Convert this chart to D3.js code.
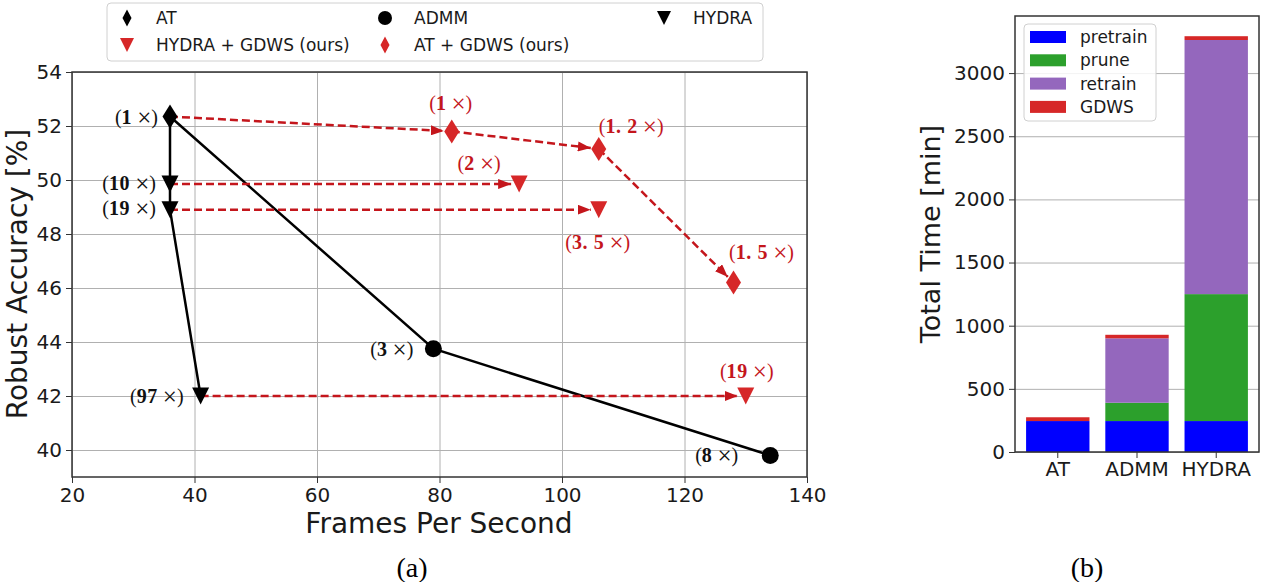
<!DOCTYPE html>
<html>
  <head>
    <style>
      body { margin: 0; background: #fff; }
      .tick text { font-family: "DejaVu Sans", sans-serif; font-size: 20px; fill: #1a1a1a; }
      .tick line { stroke: #333; }
      .domain { stroke: #333; }
      .grid line { stroke: #b0b0b0; stroke-width: 1; }
      .grid .domain { display: none; }
      .ann { font-family: "Liberation Serif", serif; font-size: 20px; }
      .leg { font-family: "DejaVu Sans", sans-serif; font-size: 17px; fill: #1a1a1a; }
    </style>
  </head>
  <body>
    <svg width="1262" height="582"></svg>
    <script src="https://cdn.jsdelivr.net/npm/d3@7"></script>
    <script>
      // (a) accuracy vs fps
      var atFps = [36], atAcc = [52.35], atLabels = ["1"];
      var hydraFps = [36, 36, 41], hydraAcc = [49.85, 48.9, 42.0], hydraLabels = ["10", "19", "97"];
      var admmFps = [79, 134], admmAcc = [43.75, 39.8], admmLabels = ["3", "8"];
      var atGdwsFps = [82, 106, 128], atGdwsAcc = [51.8, 51.15, 46.2], atGdwsLabels = ["1", "1.2", "1.5"];
      var hydraGdwsFps = [93, 106, 130], hydraGdwsAcc = [49.85, 48.9, 42.0], hydraGdwsLabels = ["2", "3.5", "19"];
      var fpsTicks = [20, 40, 60, 80, 100, 120, 140];
      var accTicks = [40, 42, 44, 46, 48, 50, 52, 54];

      // (b) total time
      var methods = ["AT", "ADMM", "HYDRA"];
      var phases = ["pretrain", "prune", "retrain", "GDWS"];
      var pretrainTime = [245, 245, 245];
      var pruneTime = [0, 145, 1005];
      var retrainTime = [0, 510, 2012];
      var gdwsTime = [30, 28, 30];
      var timeTicks = [0, 500, 1000, 1500, 2000, 2500, 3000];

      var svg = d3.select("svg");
      var RED = "#d62728", DRED = "#c4161c";

      function pts(xs, ys) { return xs.map(function(x, i) { return [x, ys[i]]; }); }
      var at = pts(atFps, atAcc), hydra = pts(hydraFps, hydraAcc), admm = pts(admmFps, admmAcc);
      var atG = pts(atGdwsFps, atGdwsAcc), hydraG = pts(hydraGdwsFps, hydraGdwsAcc);

      var x = d3.scaleLinear().domain([20, 140]).range([72, 807]);
      var y = d3.scaleLinear().domain([39, 54]).range([477, 72]);

      var a = svg.append("g");
      a.append("g").attr("class", "grid")
        .attr("transform", "translate(0,477)")
        .call(d3.axisBottom(x).tickValues(fpsTicks).tickSize(-405).tickFormat(""));
      a.append("g").attr("class", "grid")
        .attr("transform", "translate(72,0)")
        .call(d3.axisLeft(y).tickValues(accTicks).tickSize(-735).tickFormat(""));
      a.append("rect").attr("x", 72).attr("y", 72).attr("width", 735).attr("height", 405)
        .attr("fill", "none").attr("stroke", "#333").attr("stroke-width", 1.5);
      var xa = a.append("g").attr("transform", "translate(0,477)")
        .call(d3.axisBottom(x).tickValues(fpsTicks).tickSize(6).tickPadding(5));
      var ya = a.append("g").attr("transform", "translate(72,0)")
        .call(d3.axisLeft(y).tickValues(accTicks).tickSize(6).tickPadding(4));
      xa.select(".domain").remove();
      ya.select(".domain").remove();

      a.append("text").attr("x", 439).attr("y", 533)
        .attr("text-anchor", "middle")
        .style("font-family", "DejaVu Sans").style("font-size", "28px").style("fill", "#1a1a1a")
        .text("Frames Per Second");
      a.append("text").attr("transform", "translate(27,274) rotate(-90)")
        .attr("text-anchor", "middle")
        .style("font-family", "DejaVu Sans").style("font-size", "28px").style("fill", "#1a1a1a")
        .text("Robust Accuracy [%]");

      var line = d3.line().x(function(d) { return x(d[0]); }).y(function(d) { return y(d[1]); });
      a.append("path").attr("d", line(at.concat(hydra)))
        .attr("fill", "none").attr("stroke", "#000").attr("stroke-width", 2.5);
      a.append("path").attr("d", line(at.concat(admm)))
        .attr("fill", "none").attr("stroke", "#000").attr("stroke-width", 2.5);

      // arrow heads
      svg.append("defs").append("marker")
        .attr("id", "head").attr("markerUnits", "userSpaceOnUse")
        .attr("viewBox", "0 0 13 10").attr("refX", 13).attr("refY", 5)
        .attr("markerWidth", 13).attr("markerHeight", 10).attr("orient", "auto")
        .append("path").attr("d", "M0,0L13,5L0,10Z").attr("fill", DRED);

      var arrows = [[at[0], atG[0]], [atG[0], atG[1]], [atG[1], atG[2]]];
      hydra.forEach(function(p, i) { arrows.push([p, hydraG[i]]); });
      arrows.forEach(function(ar) {
        var x0 = x(ar[0][0]), y0 = y(ar[0][1]), x1 = x(ar[1][0]), y1 = y(ar[1][1]);
        var len = Math.hypot(x1 - x0, y1 - y0), s = (len - 8) / len;
        a.append("line")
          .attr("x1", x0).attr("y1", y0)
          .attr("x2", x0 + (x1 - x0) * s).attr("y2", y0 + (y1 - y0) * s)
          .attr("stroke", DRED).attr("stroke-width", 2.5)
          .attr("stroke-dasharray", "8,4")
          .attr("marker-end", "url(#head)");
      });

      function diamond(w, h) { return "M0," + (-h / 2) + "L" + (w / 2) + ",0L0," + (h / 2) + "L" + (-w / 2) + ",0Z"; }
      function triDown(s) { return "M" + (-s / 2) + "," + (-s / 2) + "L" + (s / 2) + "," + (-s / 2) + "L0," + (s / 2) + "Z"; }
      function circ(r) { return d3.symbol(d3.symbolCircle, Math.PI * r * r)(); }

      function drawMarkers(data, shape, color) {
        a.selectAll(null).data(data).enter().append("path")
          .attr("transform", function(d) { return "translate(" + x(d[0]) + "," + y(d[1]) + ")"; })
          .attr("d", shape).attr("fill", color);
      }
      drawMarkers(atG, diamond(15, 24), RED);
      drawMarkers(hydraG, triDown(17), RED);
      drawMarkers(at, diamond(15, 24), "#000");
      drawMarkers(hydra, triDown(17), "#000");
      drawMarkers(admm, circ(8.5), "#000");

      // label offsets: dx, dy, anchor
      var labelPlace = {
        at: [[-12, 0, "end"]],
        hydra: [[-14, -1, "end"], [-14, -2, "end"], [-17, 0, "end"]],
        admm: [[-20, 0, "end"], [-32, 0, "end"]],
        atG: [[-1, -28, "middle"], [0, -23, "start"], [28, -31, "middle"]],
        hydraG: [[-40, -21, "middle"], [-1, 32, "middle"], [1, -25, "middle"]]
      };
      function labels(data, texts, place, color) {
        data.forEach(function(d, i) {
          var p = place[i];
          var t = a.append("text").attr("class", "ann")
            .attr("x", x(d[0]) + p[0]).attr("y", y(d[1]) + p[1] + 7)
            .attr("text-anchor", p[2]).attr("fill", color);
          t.append("tspan").text("(");
          t.append("tspan").style("font-weight", "bold").style("letter-spacing", "0.6px")
            .text(texts[i].replace(".", ". "));
          t.append("tspan").text(" ");
          t.append("tspan").attr("dy", 2).style("font-size", "25px").text("\u00d7");
          t.append("tspan").attr("dy", -2).text(")");
        });
      }
      labels(at, atLabels, labelPlace.at, "#111");
      labels(hydra, hydraLabels, labelPlace.hydra, "#111");
      labels(admm, admmLabels, labelPlace.admm, "#111");
      labels(atG, atGdwsLabels, labelPlace.atG, DRED);
      labels(hydraG, hydraGdwsLabels, labelPlace.hydraG, DRED);

      // legend (a)
      var legendNames = ["AT", "ADMM", "HYDRA", "HYDRA + GDWS (ours)", "AT + GDWS (ours)"];
      var legendShapes = [diamond(9, 17), circ(7), triDown(14), triDown(14), diamond(9, 17)];
      var legendColors = ["#000", "#000", "#000", RED, RED];
      var leg = svg.append("g");
      leg.append("rect").attr("x", 107).attr("y", 3).attr("width", 656).attr("height", 58)
        .attr("rx", 4).attr("fill", "#fff").attr("fill-opacity", 0.85)
        .attr("stroke", "#d0d0d0").attr("stroke-width", 1);
      var colX = [127, 385, 664], rowY = [18, 45];
      legendNames.forEach(function(n, i) {
        var cx = colX[i % 3], cy = rowY[Math.floor(i / 3)];
        leg.append("path").attr("transform", "translate(" + cx + "," + cy + ")")
          .attr("d", legendShapes[i]).attr("fill", legendColors[i]);
        leg.append("text").attr("class", "leg").attr("x", cx + 29).attr("y", cy + 6).text(n);
      });

      svg.append("text").attr("x", 412).attr("y", 577).attr("text-anchor", "middle")
        .style("font-family", "Liberation Serif").style("font-size", "28px").text("(a)");

      // (b) stacked bars
      var rows = methods.map(function(m, i) {
        return { method: m, pretrain: pretrainTime[i], prune: pruneTime[i], retrain: retrainTime[i], GDWS: gdwsTime[i] };
      });
      var stack = d3.stack().keys(phases)(rows);
      var phaseColors = d3.scaleOrdinal().domain(phases).range(["#0000ff", "#2ca02c", "#9467bd", "#d62728"]);

      var bx = d3.scaleBand().domain(methods).range([1015, 1259]).paddingInner(0.2).paddingOuter(0.14);
      var by = d3.scaleLinear().domain([0, 3452]).range([452, 16]);

      var b = svg.append("g");
      b.append("g").attr("class", "grid").attr("transform", "translate(1015,0)")
        .call(d3.axisLeft(by).tickValues(timeTicks).tickSize(-244).tickFormat(""));
      b.selectAll("g.layer").data(stack).enter().append("g")
        .attr("fill", function(d) { return phaseColors(d.key); })
        .selectAll("rect").data(function(d) { return d; }).enter().append("rect")
          .attr("x", function(d) { return bx(d.data.method); })
          .attr("width", bx.bandwidth())
          .attr("y", function(d) { return by(d[1]); })
          .attr("height", function(d) { return by(d[0]) - by(d[1]); });
      b.append("rect").attr("x", 1015).attr("y", 16).attr("width", 244).attr("height", 436)
        .attr("fill", "none").attr("stroke", "#333").attr("stroke-width", 1.5);
      var bxa = b.append("g").attr("transform", "translate(0,452)")
        .call(d3.axisBottom(bx).tickSize(6).tickPadding(4));
      var bya = b.append("g").attr("transform", "translate(1015,0)")
        .call(d3.axisLeft(by).tickValues(timeTicks).tickFormat(d3.format("d")).tickSize(6).tickPadding(4));
      bxa.select(".domain").remove();
      bya.select(".domain").remove();
      b.append("text").attr("transform", "translate(940,234) rotate(-90)")
        .attr("text-anchor", "middle")
        .style("font-family", "DejaVu Sans").style("font-size", "27px").style("fill", "#1a1a1a")
        .text("Total Time [min]");

      var bleg = b.append("g");
      bleg.append("rect").attr("x", 1024).attr("y", 24).attr("width", 132).attr("height", 97)
        .attr("rx", 4).attr("fill", "#fff").attr("fill-opacity", 0.85)
        .attr("stroke", "#d0d0d0");
      phases.forEach(function(p, i) {
        var cy = 37 + i * 23.3;
        bleg.append("rect").attr("x", 1030).attr("y", cy - 6).attr("width", 36).attr("height", 12)
          .attr("fill", phaseColors(p));
        bleg.append("text").attr("class", "leg").attr("x", 1080).attr("y", cy + 6).text(p);
      });

      svg.append("text").attr("x", 1087).attr("y", 577).attr("text-anchor", "middle")
        .style("font-family", "Liberation Serif").style("font-size", "28px").text("(b)");
    </script>
  </body>
</html>
